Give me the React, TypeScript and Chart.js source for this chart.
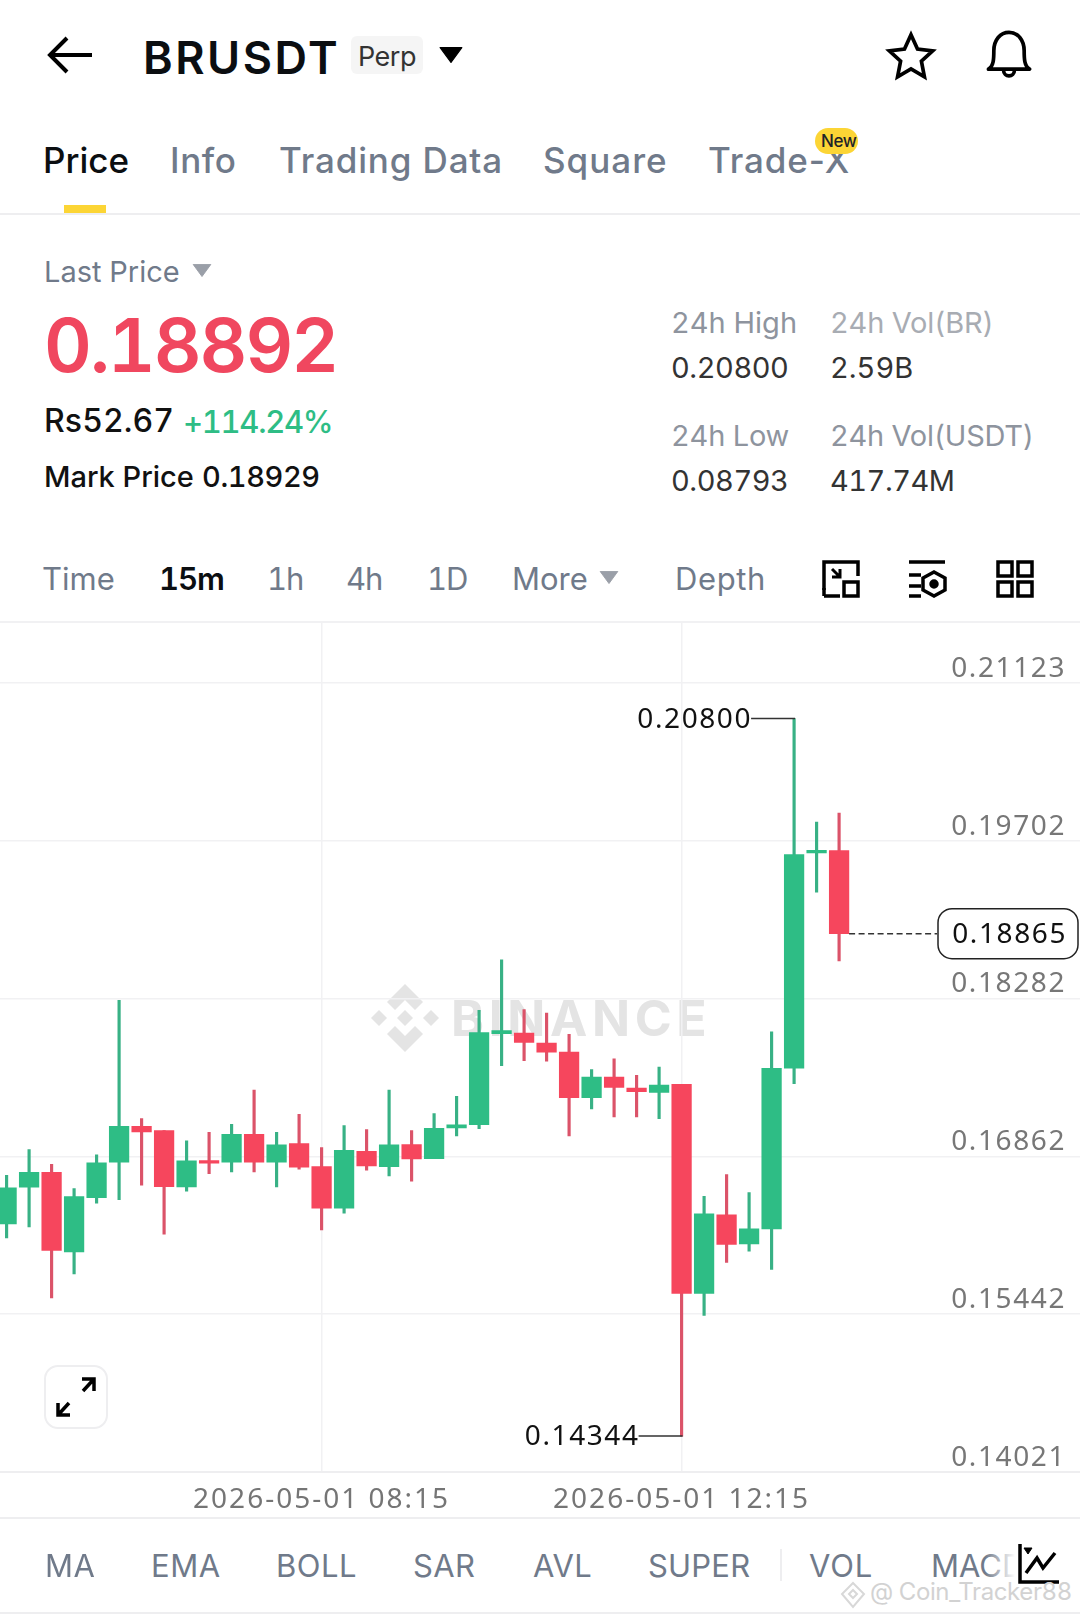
import React, { useEffect, useRef } from "react";
import { Chart, registerables } from "chart.js";

Chart.register(...registerables);

const opens = [0.16254,0.16583,0.16718,0.16002,0.1649,0.16808,0.17132,0.17093,0.16586,0.16823,0.16808,0.1706,0.16808,0.16976,0.16769,0.16394,0.16907,0.16769,0.16967,0.16841,0.17117,0.17147,0.17965,0.17971,0.1788,0.17799,0.17389,0.17575,0.17476,0.17437,0.17509,0.15627,0.16334,0.16074,0.16209,0.17655,0.19592,0.19613];
const highs = [0.16691,0.16922,0.1679,0.16571,0.16874,0.18265,0.17201,0.17093,0.17,0.17078,0.1715,0.17458,0.17078,0.1724,0.1694,0.17138,0.17102,0.17458,0.17093,0.17246,0.17401,0.18175,0.1863,0.18181,0.1815,0.17958,0.17641,0.17739,0.1759,0.17665,0.17509,0.16502,0.16697,0.16535,0.17982,0.208,0.1987,0.19951];
const lows = [0.16128,0.16227,0.15588,0.15804,0.16439,0.16472,0.16601,0.16161,0.16547,0.16706,0.16721,0.16721,0.16586,0.16745,0.162,0.16349,0.16736,0.16685,0.16637,0.16841,0.17045,0.17111,0.17677,0.17722,0.17718,0.17045,0.17287,0.17216,0.17216,0.17201,0.14344,0.15429,0.15906,0.16008,0.15843,0.17515,0.19238,0.1862];
const closes = [0.16577,0.16718,0.16014,0.16499,0.16802,0.17132,0.17081,0.16589,0.1682,0.16799,0.1706,0.16808,0.16964,0.16763,0.16394,0.16916,0.16775,0.16964,0.16838,0.17114,0.17144,0.17974,0.17992,0.17887,0.17799,0.17389,0.17575,0.17482,0.17443,0.17503,0.15627,0.16343,0.16068,0.16209,0.17653,0.19577,0.19615,0.18865];

const yTickValues = [0.21123, 0.19702, 0.18282, 0.16862, 0.15442, 0.14021];
const xTickIndexes = [14, 30];
const xTickLabels = ["2026-05-01 08:15", "2026-05-01 12:15"];
const lastPrice = 0.18865;

const GREEN = "#2EBD85";
const RED = "#F6465D";
const WICK_GREEN = "#38B185";
const WICK_RED = "#DB5369";
const GRAY = "#707A8A";
const FONT = "Inter";
const CHART_FONT = "'Noto Sans'";

function T({ x, y, size, color = "#000", weight = 400, spacing, plain, children }: any) {
  return (
    <div
      style={{
        position: "absolute",
        left: x,
        top: y,
        transform: "translateY(-50%)",
        fontFamily: FONT,
        fontSize: size,
        color,
        fontWeight: weight,
        lineHeight: 1,
        whiteSpace: "nowrap",
        letterSpacing: spacing,
        fontVariantNumeric: plain ? "normal" : "tabular-nums",
      }}
    >
      {children}
    </div>
  );
}

function Caret({ x, y, w, h, color }: any) {
  return (
    <svg style={{ position: "absolute", left: x, top: y }} width={w} height={h} viewBox="0 0 20 14">
      <path d="M0.5 0.5 H19.5 L10 13.5 Z" fill={color} stroke={color} strokeLinejoin="round" />
    </svg>
  );
}

function Box({ x, y, w, h, bg, r = 0, border }: any) {
  return (
    <div
      style={{
        position: "absolute",
        left: x,
        top: y,
        width: w,
        height: h,
        background: bg,
        borderRadius: r,
        border,
        boxSizing: "border-box",
      }}
    />
  );
}

function Icon({ x, y, w, h, vb, children }: any) {
  return (
    <svg
      style={{ position: "absolute", left: x, top: y }}
      width={w}
      height={h}
      viewBox={vb || `0 0 ${w} ${h}`}
      fill="none"
      stroke="#000"
      strokeWidth={3.5}
    >
      {children}
    </svg>
  );
}

// Tick labels in the picture are spaced wider than the font's default.
function spaceLabels(scale: any, spacing: string) {
  if (scale.__spaced) return;
  scale.__spaced = true;
  const original = scale.drawLabels;
  scale.drawLabels = function (area: any) {
    const ctx = scale.ctx;
    ctx.save();
    ctx.letterSpacing = spacing;
    original.call(scale, area);
    ctx.restore();
  };
}

const priceAnnotations = {
  id: "priceAnnotations",
  afterDatasetsDraw(chart: any) {
    const { ctx, scales } = chart;
    const xs = scales.x;
    const ys = scales.y;
    const hi = Math.max(...highs);
    const lo = Math.min(...lows);
    const hiX = xs.getPixelForValue(highs.indexOf(hi));
    const loX = xs.getPixelForValue(lows.indexOf(lo));
    const lastX = xs.getPixelForValue(closes.length - 1);
    const hiY = ys.getPixelForValue(hi);
    const loY = ys.getPixelForValue(lo);
    const lastY = ys.getPixelForValue(lastPrice);
    ctx.save();
    ctx.font = `28px ${CHART_FONT}`;
    ctx.letterSpacing = "1.6px";
    ctx.textBaseline = "middle";
    ctx.textAlign = "right";
    ctx.strokeStyle = "#333";
    ctx.lineWidth = 1.5;
    ctx.fillStyle = "#111";
    ctx.beginPath();
    ctx.moveTo(hiX - 43, hiY);
    ctx.lineTo(hiX + 1, hiY);
    ctx.moveTo(loX - 43, loY);
    ctx.lineTo(loX + 1, loY);
    ctx.stroke();
    ctx.fillText(hi.toFixed(5), hiX - 42, hiY + 1);
    ctx.fillText(lo.toFixed(5), loX - 42, loY + 1);
    ctx.setLineDash([6, 3.5]);
    ctx.beginPath();
    ctx.moveTo(lastX + 10, lastY);
    ctx.lineTo(937, lastY);
    ctx.stroke();
    ctx.setLineDash([]);
    ctx.fillStyle = "#fff";
    ctx.strokeStyle = "#222";
    ctx.beginPath();
    ctx.roundRect(938, lastY - 25, 140, 50, 14);
    ctx.fill();
    ctx.stroke();
    ctx.fillStyle = "#111";
    ctx.fillText(lastPrice.toFixed(5), 1067, lastY + 1);
    ctx.restore();
  },
};

export default function App() {
  const ref = useRef<HTMLCanvasElement>(null);
  useEffect(() => {
    document.body.style.margin = "0";
    const indexes = closes.map((_, i) => i);
    const up = (i: number) => closes[i] >= opens[i];
    const chart = new Chart(ref.current as HTMLCanvasElement, {
      type: "bar",
      data: {
        datasets: [
          {
            label: "Wick",
            grouped: false,
            order: 2,
            barThickness: 2.5,
            data: indexes.map((i) => ({ x: i, y: [lows[i], highs[i]] })),
            backgroundColor: indexes.map((i) => (up(i) ? WICK_GREEN : WICK_RED)),
          },
          {
            label: "Body",
            grouped: false,
            order: 1,
            barThickness: 19.6,
            data: indexes.map((i) => ({ x: i, y: [opens[i], closes[i]] })),
            backgroundColor: indexes.map((i) => (up(i) ? GREEN : RED)),
          },
        ] as any,
      },
      options: {
        responsive: false,
        animation: false,
        devicePixelRatio: 1,
        layout: { padding: 0, autoPadding: false },
        plugins: { legend: { display: false }, tooltip: { enabled: false } },
        scales: {
          x: {
            type: "linear",
            offset: false,
            min: -0.293,
            max: 47.707,
            afterBuildTicks: (s: any) => {
              s.ticks = xTickIndexes.map((value) => ({ value }));
              spaceLabels(s, "2px");
            },
            afterFit: (s: any) => {
              s.height = 45;
            },
            grid: { color: "#F1F1F3", lineWidth: 1.5, drawTicks: false, offset: false },
            border: { display: true, color: "#EEEEF0", width: 2 },
            ticks: {
              autoSkip: false,
              maxRotation: 0,
              padding: 11,
              color: "#757575",
              font: { family: "Noto Sans", size: 28 },
              callback: (v: any) => xTickLabels[xTickIndexes.indexOf(Number(v))] ?? "",
            },
          },
          y: {
            type: "linear",
            position: "right",
            min: 0.14021,
            max: 0.21662,
            afterBuildTicks: (s: any) => {
              s.ticks = yTickValues.map((value) => ({ value }));
              spaceLabels(s, "1.6px");
            },
            afterFit: (s: any) => {
              s.width = 0;
            },
            grid: { color: "#F1F1F3", lineWidth: 1.5, drawTicks: false },
            border: { display: false },
            ticks: {
              mirror: true,
              padding: -14,
              labelOffset: -14,
              color: "#777777",
              font: { family: "Noto Sans", size: 28 },
              callback: (v: any) => Number(v).toFixed(5),
            },
          },
        },
      } as any,
      plugins: [priceAnnotations],
    });
    return () => chart.destroy();
  }, []);

  return (
    <div style={{ position: "absolute", left: 0, top: 0, width: 1080, height: 1617, overflow: "hidden", background: "#fff" }}>
      {/* header */}
      <Icon x={46} y={34} w={48} h={42}>
        <path d="M46 21 H4 M21 4 L4 21 L21 38" strokeWidth={4} />
      </Icon>
      <T x={143} y={57} size={45} weight={600} color="#0B0E11" spacing={2.5}>BRUSDT</T>
      <Box x={351} y={36} w={72} h={38} bg="#F5F5F5" r={6} />
      <T x={358} y={56} size={27} color="#333" spacing={-0.5}>Perp</T>
      <Caret x={439} y={47} w={24} h={16} color="#000" />
      <Icon x={885} y={30} w={52} h={52} vb="0 0 24 24">
        <path d="M12 2.2 L15 8.8 L22 9.6 L16.8 14.4 L18.2 21.6 L12 18 L5.8 21.6 L7.2 14.4 L2 9.6 L9 8.8 Z" strokeWidth={1.7} strokeLinejoin="miter" />
      </Icon>
      <Icon x={983} y={28} w={52} h={52} vb="0 0 24 24">
        <path d="M2.5 19 C5 17.5 5 14 5 10.5 C5 5.5 8 2 12 2 C16 2 19 5.5 19 10.5 C19 14 19 17.5 21.5 19 Z M9.5 19.5 C9.5 23 14.5 23 14.5 19.5" strokeWidth={1.7} strokeLinejoin="round" />
      </Icon>

      {/* tabs */}
      <T x={43} y={160} size={35} weight={500} color="#0B0E11">Price</T>
      <T x={170} y={160} size={35} weight={500} color={GRAY} spacing={0.6}>Info</T>
      <T x={279} y={160} size={35} weight={500} color={GRAY} spacing={0.85}>Trading Data</T>
      <T x={543} y={160} size={35} weight={500} color={GRAY} spacing={1}>Square</T>
      <T x={708} y={160} size={35} weight={500} color={GRAY} spacing={0.9} plain>Trade-X</T>
      <Box x={815} y={128} w={43} h={26} bg="#FCD535" r={13} />
      <T x={821} y={141} size={17} weight={500} color="#1E2329" spacing={-0.4}>New</T>
      <Box x={64} y={205} w={42} h={8} bg="#FCD535" />
      <Box x={0} y={213} w={1080} h={2} bg="#EEEEF0" />

      {/* price block */}
      <T x={44} y={271} size={29} weight={400} color={GRAY}>Last Price</T>
      <Caret x={192} y={264} w={20} h={13} color="#9A9FA8" />
      <T x={44} y={345} size={74} weight={600} color="#F0475F" spacing={-2}>0.18892</T>
      <T x={44} y={421} size={32} weight={500} color="#111" spacing={0.1}>Rs52.67</T>
      <T x={183} y={421} size={31} weight={500} color={GREEN} spacing={-1.3}>+114.24%</T>
      <T x={44} y={476} size={29} weight={500} color="#111">Mark Price</T>
      <T x={202} y={476} size={29} weight={500} color="#111" spacing={-0.4}>0.18929</T>

      <T x={671} y={322} size={29} color="#8E949E">24h High</T>
      <T x={830} y={322} size={29} color="#A8ACB3" spacing={-0.2}>24h Vol(BR)</T>
      <T x={671} y={367} size={29} color="#333" spacing={-0.45}>0.20800</T>
      <T x={830} y={367} size={29} color="#333">2.59B</T>
      <T x={671} y={435} size={29} color="#8E949E" spacing={-0.2}>24h Low</T>
      <T x={830} y={435} size={29} color="#8E949E" spacing={-0.25}>24h Vol(USDT)</T>
      <T x={671} y={480} size={29} color="#333" spacing={-0.45}>0.08793</T>
      <T x={830} y={480} size={29} color="#333" spacing={-0.5}>417.74M</T>

      {/* toolbar */}
      <T x={42} y={578} size={31} color={GRAY}>Time</T>
      <T x={159} y={578} size={31} weight={600} color="#0B0E11" spacing={-1}>15m</T>
      <T x={267} y={578} size={31} color={GRAY} spacing={-1}>1h</T>
      <T x={346} y={578} size={31} color={GRAY} spacing={-1}>4h</T>
      <T x={427} y={578} size={31} color={GRAY} spacing={-1}>1D</T>
      <T x={512} y={578} size={31} color={GRAY}>More</T>
      <Caret x={599} y={571} w={20} h={13} color="#9A9FA8" />
      <T x={675} y={578} size={31} color={GRAY} spacing={0.6}>Depth</T>
      <Icon x={822} y={560} w={38} h={38}>
        <path d="M2 30 V2 H36 V16 M2 36 H18" />
        <path d="M2 36 V28" />
        <path d="M10 9 L18 17 M18 9 V17 H10" strokeWidth={3} />
        <rect x="22" y="22" width="14" height="14" />
      </Icon>
      <Icon x={907} y={560} w={40} h={38}>
        <path d="M2 2 H38 M2 15 H14 M2 26 H14 M2 36 H14" />
        <path d="M27 12 L38 18 V30 L27 36 L16 30 V18 Z" />
        <circle cx="27" cy="24" r="3" fill="#000" />
      </Icon>
      <Icon x={996} y={560} w={38} h={38}>
        <rect x="2" y="2" width="14" height="14" />
        <rect x="22" y="2" width="14" height="14" />
        <rect x="2" y="22" width="14" height="14" />
        <rect x="22" y="22" width="14" height="14" />
      </Icon>
      <Box x={0} y={621} w={1080} h={2} bg="#F1F1F3" />

      {/* watermark behind the transparent canvas */}
      <svg style={{ position: "absolute", left: 371, top: 984 }} width={68} height={68} viewBox="0 0 68 68" fill="#E4E4E4">
        <path d="M34 0 L52 18 L44 26 L34 16 L24 26 L16 18 Z" />
        <path d="M34 68 L52 50 L44 42 L34 52 L24 42 L16 50 Z" />
        <path d="M8 26 L16 34 L8 42 L0 34 Z" />
        <path d="M60 26 L68 34 L60 42 L52 34 Z" />
        <path d="M34 26 L42 34 L34 42 L26 34 Z" />
      </svg>
      <T x={451} y={1018} size={50} weight={700} color="#E4E4E4" spacing={4.6}>BINANCE</T>

      <canvas ref={ref} width={1080} height={897} style={{ position: "absolute", left: 0, top: 620, width: 1080, height: 897 }} />

      {/* expand button */}
      <Box x={44} y={1365} w={64} h={64} bg="#fff" r={14} border="2px solid #EEEEF0" />
      <Icon x={54} y={1376} w={44} h={42}>
        <path d="M29 15 L40 3 M28 3 H40 V15" />
        <path d="M15 27 L4 39 M16 39 H4 V27" />
      </Icon>

      {/* indicators */}
      <Box x={0} y={1517} w={1080} h={2} bg="#EEEEF0" />
      <T x={45} y={1565} size={31} color={GRAY} spacing={0.5}>MA</T>
      <T x={151} y={1565} size={31} color={GRAY} spacing={0.5}>EMA</T>
      <T x={276} y={1565} size={31} color={GRAY} spacing={0.5}>BOLL</T>
      <T x={413} y={1565} size={31} color={GRAY} spacing={0.3}>SAR</T>
      <T x={533} y={1565} size={31} color={GRAY} spacing={0.3}>AVL</T>
      <T x={648} y={1565} size={31} color={GRAY} spacing={0.2}>SUPER</T>
      <Box x={780} y={1549} w={2} h={32} bg="#EEEEF0" />
      <T x={809} y={1565} size={31} color={GRAY} spacing={0.8}>VOL</T>
      <T x={931} y={1565} size={31} color={GRAY}>MACD</T>
      <div style={{ position: "absolute", left: 985, top: 1540, width: 30, height: 50, background: "linear-gradient(to right, rgba(255,255,255,0), #fff)" }} />
      <Box x={1015} y={1540} w={65} h={48} bg="#fff" />
      <Icon x={1017} y={1544} w={42} h={40}>
        <path d="M3 0 V38 H42" strokeWidth={3.5} />
        <path d="M9 29 L20 14 L26 24 L38 9" strokeWidth={3.5} />
        <path d="M7 4 H15 L11 10 Z" fill="#000" strokeWidth={1} />
      </Icon>

      {/* image watermark */}
      <svg style={{ position: "absolute", left: 840, top: 1581 }} width={26} height={28} viewBox="0 0 26 28" fill="none" stroke="#D8D8D8" strokeWidth={2}>
        <path d="M13 2 L24 13 L13 26 L2 13 Z M13 9 L17 13 L13 17 L9 13 Z" />
      </svg>
      <T x={870} y={1592} size={24} color="#D2D2D2" spacing={-0.4}>@ Coin_Tracker88</T>
      <Box x={0} y={1612} w={1080} h={2} bg="#EEEEF0" />
    </div>
  );
}
